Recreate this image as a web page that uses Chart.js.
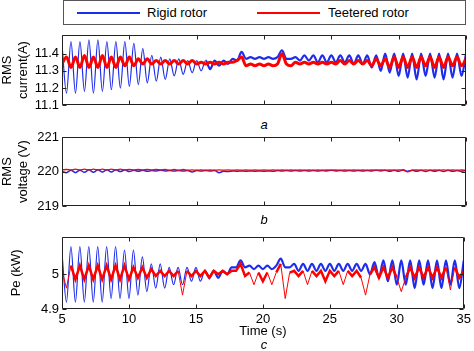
<!DOCTYPE html>
<html>
<head>
<meta charset="utf-8">
<script src="https://cdn.jsdelivr.net/npm/chart.js@4.4.0/dist/chart.umd.min.js"></script>
<style>
  body { margin: 0; background: #fff; }
  #page { position: relative; width: 474px; height: 351px; overflow: hidden; font-family: "Liberation Sans", Arial, sans-serif; color: #000; }
  canvas { position: absolute; left: 0; }
  .legend { position: absolute; left: 63px; top: 0; width: 403px; height: 25px; box-sizing: border-box; border: 1px solid #555; }
  .swatch { position: absolute; top: 11px; height: 1.5px; width: 63px; }
  .ltext { position: absolute; top: 4px; font-size: 13px; line-height: 16px; }
  .sub { position: absolute; width: 40px; text-align: center; font-style: italic; font-size: 13px; line-height: 16px; }
</style>
</head>
<body>
<div id="page">
  <div class="legend">
    <div class="swatch" style="left:13px; background: rgb(30,45,235);"></div>
    <div class="ltext" style="left:83px;">Rigid rotor</div>
    <div class="swatch" style="left:193px; background: rgb(255,0,0);"></div>
    <div class="ltext" style="left:264px;">Teetered rotor</div>
  </div>
  <canvas id="currentChart" width="474" height="92" style="top:24px"></canvas>
  <div class="sub" style="left:244px; top:117px;">a</div>
  <canvas id="voltageChart" width="474" height="91" style="top:126px"></canvas>
  <div class="sub" style="left:244px; top:212px;">b</div>
  <canvas id="powerChart" width="474" height="125" style="top:226px"></canvas>
  <div class="sub" style="left:244px; top:337px;">c</div>
</div>
<script>
// sample times: one value every 1/3 s from 5 s to 35 s
const startTime = 5;
const sampleStep = 1 / 3;
const timeTicks = [5, 10, 15, 20, 25, 30, 35];

const currentTicks = [11.1, 11.2, 11.3, 11.4];
const voltageTicks = [219, 220, 221];
const powerTicks = [4.9, 5];

// RMS current (A)
const currentRigid = [
  11.45, 11.17, 11.47, 11.17, 11.47, 11.18, 11.48, 11.17, 11.48, 11.18,
  11.47, 11.19, 11.47, 11.20, 11.47, 11.21, 11.46, 11.22, 11.43, 11.23,
  11.39, 11.24, 11.38, 11.25, 11.37, 11.27, 11.37, 11.28, 11.36, 11.29,
  11.36, 11.30, 11.36, 11.31, 11.36, 11.33, 11.36, 11.34, 11.37, 11.36,
  11.41, 11.37, 11.38, 11.37, 11.38, 11.37, 11.38, 11.37, 11.38, 11.42,
  11.37, 11.37, 11.38, 11.36, 11.39, 11.36, 11.39, 11.35, 11.39, 11.35,
  11.39, 11.35, 11.39, 11.35, 11.39, 11.34, 11.39, 11.34, 11.39, 11.32,
  11.39, 11.30, 11.40, 11.29, 11.40, 11.27, 11.40, 11.26, 11.40, 11.25,
  11.40, 11.27, 11.40, 11.26, 11.40, 11.25, 11.40, 11.26, 11.40, 11.27,
  11.40
];
const currentTeetered = [
  11.34, 11.38, 11.32, 11.38, 11.32, 11.39, 11.32, 11.38, 11.32, 11.39,
  11.32, 11.38, 11.32, 11.38, 11.33, 11.38, 11.33, 11.37, 11.34, 11.37,
  11.34, 11.36, 11.34, 11.36, 11.34, 11.36, 11.34, 11.36, 11.34, 11.36,
  11.34, 11.35, 11.34, 11.35, 11.34, 11.35, 11.34, 11.35, 11.35, 11.36,
  11.38, 11.33, 11.34, 11.33, 11.34, 11.33, 11.34, 11.33, 11.34, 11.40,
  11.34, 11.33, 11.35, 11.34, 11.35, 11.34, 11.35, 11.34, 11.35, 11.34,
  11.35, 11.34, 11.36, 11.34, 11.36, 11.34, 11.36, 11.34, 11.36, 11.33,
  11.37, 11.33, 11.37, 11.32, 11.38, 11.32, 11.38, 11.32, 11.38, 11.32,
  11.38, 11.33, 11.38, 11.32, 11.38, 11.32, 11.38, 11.33, 11.38, 11.33,
  11.37
];

// RMS voltage (V)
const voltageRigid = [
  220.00, 219.97, 220.04, 219.97, 220.04, 219.98, 220.05, 219.98, 220.05, 219.99,
  220.05, 219.99, 220.05, 220.00, 220.05, 220.00, 220.04, 220.01, 220.04, 220.01,
  220.03, 220.02, 220.04, 220.02, 220.03, 220.02, 220.03, 220.02, 220.03, 219.99,
  220.03, 220.02, 220.03, 220.02, 220.03, 219.97, 220.01, 220.00, 220.02, 220.01,
  220.02, 220.01, 220.02, 220.01, 220.02, 220.01, 220.02, 220.01, 220.03, 220.02,
  220.03, 220.02, 220.03, 220.02, 220.03, 220.02, 220.03, 220.02, 220.03, 220.02,
  220.04, 220.02, 220.03, 220.02, 220.03, 220.02, 220.03, 220.02, 220.03, 220.02,
  220.04, 220.02, 220.04, 220.01, 220.04, 220.01, 220.05, 220.01, 220.04, 220.01,
  220.04, 220.00, 220.04, 220.01, 220.04, 220.00, 220.04, 220.01, 220.03, 220.01,
  220.03
];
const voltageTeetered = [
  220.05, 220.06, 220.05, 220.07, 220.05, 220.07, 220.05, 220.07, 220.05, 220.07,
  220.05, 220.07, 220.05, 220.07, 220.05, 220.06, 220.05, 220.06, 220.05, 220.06,
  220.05, 220.06, 220.05, 220.06, 220.04, 220.06, 220.04, 220.06, 220.04, 220.05,
  220.04, 220.05, 220.04, 220.05, 220.04, 220.05, 220.04, 220.05, 220.04, 220.05,
  220.04, 220.05, 220.04, 220.05, 220.04, 220.05, 220.04, 220.05, 220.04, 220.05,
  220.04, 220.05, 220.04, 220.05, 220.04, 220.05, 220.04, 220.05, 220.04, 220.05,
  220.04, 220.05, 220.04, 220.05, 220.04, 220.05, 220.04, 220.05, 220.04, 220.05,
  220.04, 220.05, 220.04, 220.05, 220.04, 220.05, 220.04, 219.99, 220.04, 220.05,
  220.04, 220.05, 220.04, 220.05, 220.04, 220.05, 220.04, 220.05, 220.04, 220.05,
  220.04
];

// electrical power Pe (kW)
const powerRigid = [
  5.06, 4.92, 5.08, 4.92, 5.08, 4.92, 5.08, 4.92, 5.08, 4.92,
  5.08, 4.93, 5.08, 4.93, 5.07, 4.93, 5.07, 4.94, 5.05, 4.95,
  5.03, 4.96, 5.03, 4.96, 5.02, 4.97, 5.02, 4.97, 5.02, 4.98,
  5.02, 4.98, 5.01, 4.99, 5.01, 4.99, 5.01, 5.00, 5.02, 5.02,
  5.04, 5.02, 5.025, 5.015, 5.025, 5.015, 5.025, 5.015, 5.025, 5.045,
  5.02, 5.02, 5.03, 5.01, 5.03, 5.01, 5.03, 5.01, 5.03, 5.01,
  5.03, 5.01, 5.03, 5.01, 5.03, 5.01, 5.03, 5.01, 5.03, 5.00,
  5.035, 4.99, 5.04, 4.98, 5.04, 4.97, 5.04, 4.97, 5.04, 4.96,
  5.04, 4.97, 5.04, 4.96, 5.04, 4.96, 5.04, 4.97, 5.04, 4.96,
  5.04
];
const powerTeetered = [
  5.01, 4.96, 5.025, 4.985, 5.025, 4.985, 5.025, 4.985, 5.025, 4.985,
  5.025, 4.985, 5.025, 4.985, 5.025, 4.985, 5.02, 4.99, 5.02, 4.99,
  5.015, 4.995, 5.01, 4.995, 5.01, 4.995, 5.01, 4.94, 5.01, 4.995,
  5.01, 4.995, 5.01, 4.99, 5.01, 5.00, 5.01, 5.00, 5.01, 5.01,
  5.03, 4.995, 5.005, 4.97, 5.005, 4.98, 5.005, 4.97, 5.005, 5.03,
  4.93, 5.005, 5.01, 4.995, 5.01, 4.97, 5.01, 4.995, 5.01, 4.98,
  5.01, 4.995, 5.01, 4.97, 5.01, 4.995, 5.01, 4.99, 4.94, 5.00,
  5.02, 4.99, 5.02, 4.99, 5.02, 4.99, 4.95, 4.99, 5.02, 4.99,
  5.02, 4.99, 5.02, 4.99, 5.02, 4.99, 5.02, 4.955, 5.02, 4.99,
  5.01
];

const blue = "rgb(30,45,235)";
const red = "rgb(255,0,0)";
const font = { family: "'Liberation Sans', Arial, sans-serif", size: 13 };

function toPoints(values) {
  return values.map((v, i) => ({ x: startTime + i * sampleStep, y: v }));
}

// box around the plot with inward tick marks, matlab style
const frameTicks = {
  id: "frameTicks",
  afterDatasetsDraw(chart, args, opts) {
    const { ctx, chartArea: a, scales } = chart;
    const L = Math.round(a.left) + 0.5, R = Math.round(a.right) - 0.5;
    const T = Math.round(a.top) + 0.5, B = Math.round(a.bottom) - 0.5;
    ctx.save();
    ctx.strokeStyle = "#222";
    ctx.lineWidth = 1;
    ctx.beginPath();
    ctx.rect(L, T, R - L, B - T);
    timeTicks.forEach((t) => {
      const px = Math.round(scales.x.getPixelForValue(t)) + 0.5;
      ctx.moveTo(px, B); ctx.lineTo(px, B - 4);
      ctx.moveTo(px, T); ctx.lineTo(px, T + 4);
    });
    opts.yTicks.forEach((v) => {
      const py = Math.round(scales.y.getPixelForValue(v)) + 0.5;
      ctx.moveTo(L, py); ctx.lineTo(L + 4, py);
      ctx.moveTo(R, py); ctx.lineTo(R - 4, py);
    });
    ctx.stroke();
    ctx.restore();
  },
};

function makeChart(id, rigid, teetered, yMin, yMax, yTicks, title, opt) {
  const ctx = document.getElementById(id).getContext("2d");
  return new Chart(ctx, {
    type: "line",
    data: {
      datasets: [
        {
          label: "Teetered rotor",
          data: toPoints(teetered),
          borderColor: red,
          borderWidth: opt.redWidth,
          pointRadius: 0,
          cubicInterpolationMode: opt.redSmooth ? "monotone" : "default",
          tension: 0,
          order: 0,
          segment: {
            // the short downward spikes are thin lines in the figure
            borderWidth: (c) =>
              (c.p0.parsed.y < opt.spikeBelow || c.p1.parsed.y < opt.spikeBelow) ? 1 : opt.redWidth,
          },
        },
        {
          label: "Rigid rotor",
          data: toPoints(rigid),
          borderColor: blue,
          borderWidth: opt.blueWidth,
          pointRadius: 0,
          cubicInterpolationMode: "monotone",
          order: 1,
          segment: {
            borderWidth: (c) => (c.p0.parsed.x >= 15.5 ? opt.blueLate : opt.blueWidth),
          },
        },
      ],
    },
    options: {
      responsive: false,
      animation: false,
      devicePixelRatio: 1,
      layout: { padding: opt.padding },
      plugins: {
        legend: { display: false },
        tooltip: { enabled: false },
        frameTicks: { yTicks: yTicks },
      },
      scales: {
        x: {
          type: "linear",
          min: 5,
          max: 35,
          display: opt.showX,
          afterBuildTicks: (s) => { s.ticks = timeTicks.map((v) => ({ value: v })); },
          afterFit: (s) => { s.height = opt.xHeight; },
          grid: { display: false, drawTicks: false },
          border: { display: false },
          ticks: { color: "#000", font: font, padding: 3, maxRotation: 0 },
          title: {
            display: opt.showX,
            text: "Time (s)",
            color: "#000",
            font: font,
            padding: { top: 0, bottom: 12 },
          },
        },
        y: {
          min: yMin,
          max: yMax,
          afterBuildTicks: (s) => { s.ticks = yTicks.map((v) => ({ value: v })); },
          afterFit: (s) => { s.width = 62; },
          grid: { display: false, drawTicks: false },
          border: { display: false },
          ticks: {
            color: "#000",
            font: font,
            padding: 3,
            callback: (v) => String(Number(v.toFixed(2))),
          },
          title: {
            display: true,
            text: title,
            color: "#000",
            font: font,
            padding: { top: opt.titlePad, bottom: 0 },
          },
        },
      },
    },
    plugins: [frameTicks],
  });
}

makeChart("currentChart", currentRigid, currentTeetered, 11.1, 11.51, currentTicks,
  ["RMS", "current(A)"],
  { redWidth: 3, redSmooth: true, blueWidth: 1.2, blueLate: 2.2, spikeBelow: 0, showX: false, xHeight: 0, titlePad: 0,
    padding: { top: 3, bottom: 8, left: 0, right: 8 } });

makeChart("voltageChart", voltageRigid, voltageTeetered, 219, 221, voltageTicks,
  ["RMS", "voltage (V)"],
  { redWidth: 1.3, redSmooth: true, blueWidth: 1.5, blueLate: 1.5, spikeBelow: 0, showX: false, xHeight: 0, titlePad: 0,
    padding: { top: 11, bottom: 8, left: 0, right: 8 } });

makeChart("powerChart", powerRigid, powerTeetered, 4.9, 5.108, powerTicks,
  "Pe (kW)",
  { redWidth: 2.5, redSmooth: false, blueWidth: 1.2, blueLate: 2.2, spikeBelow: 4.975, showX: true, xHeight: 42, titlePad: 9,
    padding: { top: 8, bottom: 0, left: 0, right: 8 } });
</script>
</body>
</html>
